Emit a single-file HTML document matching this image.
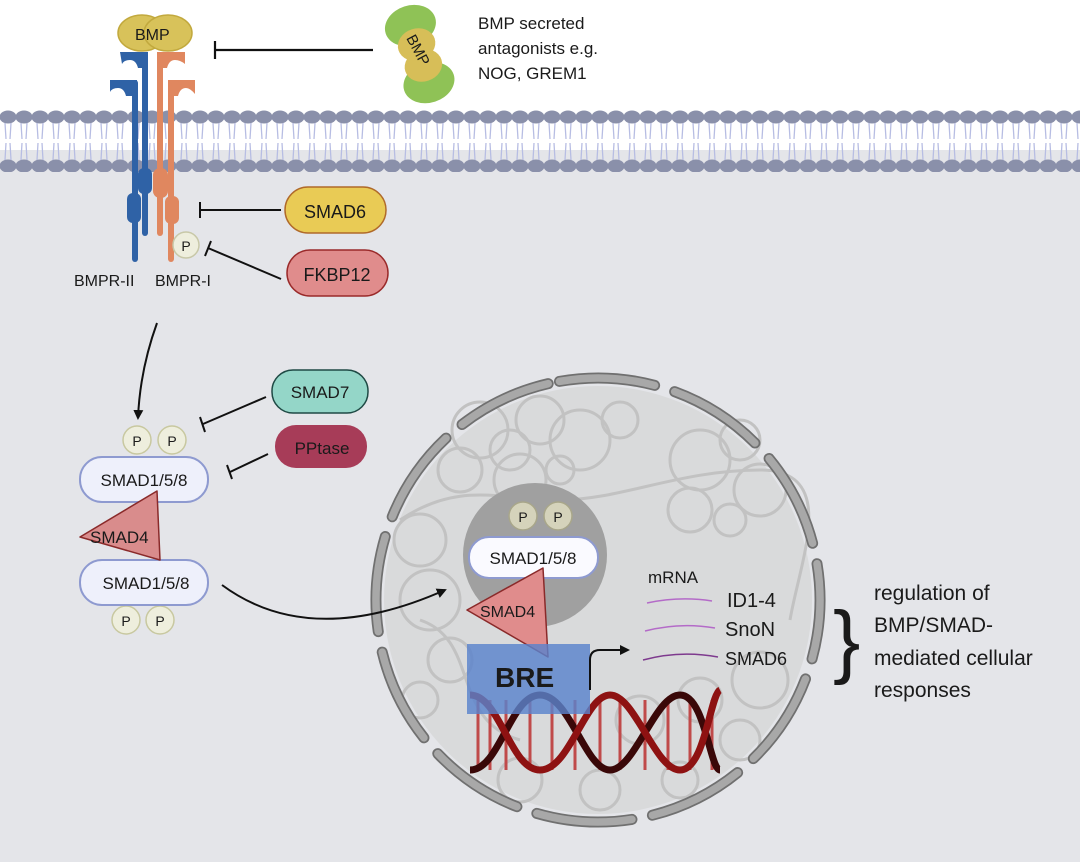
<!DOCTYPE html>
<html><head><meta charset="utf-8"><style>
html,body{margin:0;padding:0;background:#fff}
svg{display:block}
text{font-family:"Liberation Sans",sans-serif;fill:#1a1a1a}
</style></head><body>
<svg width="1080" height="862" viewBox="0 0 1080 862" xmlns="http://www.w3.org/2000/svg">
<defs>
<pattern id="mem" x="0" y="110" width="16" height="62" patternUnits="userSpaceOnUse">
<path d="M5 13 L6 29 M11 13 L10 29 M6 33 L5 50 M10 33 L11 50" stroke="#b7bde3" stroke-width="1.3" fill="none"/>
<ellipse cx="8" cy="7" rx="8.5" ry="6.5" fill="#8a90aa"/>
<ellipse cx="8" cy="56" rx="8.5" ry="6.5" fill="#8a90aa"/>
</pattern>
<marker id="ah" markerWidth="10" markerHeight="10" refX="8" refY="5" orient="auto" markerUnits="userSpaceOnUse"><path d="M0 0 L10 5 L0 10 Z" fill="#111"/></marker>
</defs>
<rect width="1080" height="862" fill="#fff"/>
<rect x="0" y="150" width="1080" height="712" fill="#e4e5e9"/>
<rect x="0" y="110" width="1080" height="62" fill="url(#mem)"/>

<!-- nucleus -->
<circle cx="598" cy="600" r="214" fill="#d9dadb"/>
<g fill="none" stroke="#c2c2c2" stroke-width="3">
<circle cx="480" cy="430" r="28"/><circle cx="510" cy="450" r="20"/><circle cx="540" cy="420" r="24"/><circle cx="580" cy="440" r="30"/><circle cx="620" cy="420" r="18"/>
<circle cx="460" cy="470" r="22"/><circle cx="520" cy="480" r="26"/><circle cx="560" cy="470" r="14"/>
<circle cx="700" cy="460" r="30"/><circle cx="740" cy="440" r="20"/><circle cx="760" cy="490" r="26"/><circle cx="690" cy="510" r="22"/><circle cx="730" cy="520" r="16"/>
<circle cx="420" cy="540" r="26"/><circle cx="430" cy="600" r="30"/><circle cx="450" cy="660" r="22"/><circle cx="420" cy="700" r="18"/>
<circle cx="640" cy="720" r="24"/><circle cx="700" cy="700" r="22"/><circle cx="760" cy="680" r="28"/><circle cx="740" cy="740" r="20"/>
<circle cx="520" cy="780" r="22"/><circle cx="600" cy="790" r="20"/><circle cx="680" cy="780" r="18"/>
<path d="M400 520 C460 480 500 500 560 500 S680 470 760 470 S800 560 790 620"/>
<path d="M420 620 C480 640 450 720 520 740"/>
</g>
<circle cx="598" cy="600" r="222" fill="none" stroke="#707070" stroke-width="11" stroke-dasharray="96 21" stroke-linecap="round" transform="rotate(-100 598 600)"/>
<circle cx="598" cy="600" r="222" fill="none" stroke="#a8a8a8" stroke-width="7.5" stroke-dasharray="96 21" stroke-linecap="round" transform="rotate(-100 598 600)"/>

<!-- receptors -->
<g fill="#2f62a6">
<rect x="132" y="80" width="6" height="182" rx="3"/>
<path d="M110 80 H137 V96 H126 Q124 88 118 88 Q112 88 110 92 Z"/>
<rect x="142" y="53" width="6" height="183" rx="3"/>
<path d="M120 52 H148 V68 H138 Q136 60 130 60 Q124 60 122 64 Z"/>
<rect x="138" y="168" width="14" height="26" rx="6"/>
<rect x="127" y="193" width="14" height="30" rx="6"/>
</g>
<g fill="#e0875f">
<rect x="157" y="53" width="6" height="183" rx="3"/>
<path d="M157 52 H185 V64 Q180 60 175 60 Q169 60 167 68 H157 Z"/>
<rect x="168" y="80" width="6" height="182" rx="3"/>
<path d="M168 80 H195 V94 Q190 88 186 88 Q180 88 178 96 H168 Z"/>
<rect x="153" y="168" width="15" height="30" rx="7"/>
<rect x="165" y="196" width="14" height="28" rx="6"/>
</g>
<!-- BMP ligand -->
<g fill="#d8c25a" stroke="#c2a93e" stroke-width="1.5">
<ellipse cx="142" cy="33" rx="24" ry="18"/><ellipse cx="168" cy="33" rx="24" ry="18"/>
</g>
<text x="135" y="40" font-size="16">BMP</text>
<!-- antagonist -->
<g transform="rotate(-18 420 55)">
<ellipse cx="420" cy="24" rx="26" ry="20" fill="#8fc256"/>
<ellipse cx="420" cy="84" rx="26" ry="20" fill="#8fc256"/>
<ellipse cx="420" cy="44" rx="19" ry="16" fill="#d7be58"/>
<ellipse cx="420" cy="66" rx="19" ry="16" fill="#d7be58"/>
</g>
<text x="0" y="0" font-size="15" transform="translate(406,38) rotate(62)">BMP</text>
<text font-size="17"><tspan x="478" y="29">BMP secreted</tspan><tspan x="478" y="54">antagonists e.g.</tspan><tspan x="478" y="79">NOG, GREM1</tspan></text>
<path d="M373 50 H215 M215 41 V59" stroke="#111" stroke-width="2.2" fill="none"/>

<!-- SMAD6 / FKBP12 -->
<rect x="285" y="187" width="101" height="46" rx="23" fill="#e9cb55" stroke="#b06a2a" stroke-width="1.5"/>
<text x="335" y="218" font-size="18" text-anchor="middle">SMAD6</text>
<rect x="287" y="250" width="101" height="46" rx="23" fill="#e08c8c" stroke="#9a2a2a" stroke-width="1.5"/>
<text x="337" y="281" font-size="18" text-anchor="middle">FKBP12</text>
<path d="M281 210 H200 M200 202 V218" stroke="#111" stroke-width="2" fill="none"/>
<path d="M281 279 L208 248 M211 241 L205 256" stroke="#111" stroke-width="2" fill="none"/>
<circle cx="186" cy="245" r="13" fill="#eeeedd" stroke="#c8c8a8" stroke-width="1.5"/>
<text x="186" y="251" font-size="14" text-anchor="middle">P</text>
<text x="74" y="286" font-size="16">BMPR-II</text>
<text x="155" y="286" font-size="16">BMPR-I</text>

<!-- arrow down -->
<path d="M157 323 Q140 370 138 418" stroke="#111" stroke-width="2" fill="none" marker-end="url(#ah)"/>

<!-- SMAD7 / PPtase -->
<rect x="272" y="370" width="96" height="43" rx="21" fill="#94d6c8" stroke="#1f4a45" stroke-width="1.5"/>
<text x="320" y="398" font-size="17" text-anchor="middle">SMAD7</text>
<rect x="275" y="425" width="92" height="43" rx="21" fill="#a73c58"/>
<text x="322" y="454" font-size="17" text-anchor="middle">PPtase</text>
<path d="M266 397 L203 424 M200 417 L205 432" stroke="#111" stroke-width="2" fill="none"/>
<path d="M268 454 L230 472 M227 465 L232 479" stroke="#111" stroke-width="2" fill="none"/>

<!-- left complex -->
<g fill="#eeeedd" stroke="#c8c8a0" stroke-width="1.5">
<circle cx="137" cy="440" r="14"/><circle cx="172" cy="440" r="14"/>
<circle cx="126" cy="620" r="14"/><circle cx="160" cy="620" r="14"/>
</g>
<g font-size="14" text-anchor="middle"><text x="137" y="446">P</text><text x="172" y="446">P</text><text x="126" y="626">P</text><text x="160" y="626">P</text></g>
<rect x="80" y="457" width="128" height="45" rx="22" fill="#eef0fb" stroke="#8e9ad0" stroke-width="2"/>
<text x="144" y="486" font-size="17" text-anchor="middle">SMAD1/5/8</text>
<rect x="80" y="560" width="128" height="45" rx="22" fill="#eef0fb" stroke="#8e9ad0" stroke-width="2"/>
<text x="146" y="589" font-size="17" text-anchor="middle">SMAD1/5/8</text>
<path d="M80 537 L157 491 L160 560 Z" fill="#d98c8c" stroke="#8a2a2a" stroke-width="1.5" stroke-linejoin="round"/>
<text x="90" y="543" font-size="17">SMAD4</text>

<!-- curve arrow to nucleus -->
<path d="M222 585 Q310 650 445 590" stroke="#111" stroke-width="2" fill="none" marker-end="url(#ah)"/>

<!-- nuclear complex -->
<circle cx="535" cy="555" r="72" fill="#a0a0a0"/>
<g fill="#d5d3bb" stroke="#a8a68a" stroke-width="1.5"><circle cx="523" cy="516" r="14"/><circle cx="558" cy="516" r="14"/></g>
<g font-size="14" text-anchor="middle"><text x="523" y="522">P</text><text x="558" y="522">P</text></g>
<rect x="469" y="537" width="129" height="41" rx="20" fill="#fafaff" stroke="#8e9ad0" stroke-width="2"/>
<text x="533" y="564" font-size="17" text-anchor="middle">SMAD1/5/8</text>
<path d="M467 610 L543 568 L548 657 Z" fill="#e08c8c" stroke="#8a2a2a" stroke-width="1.5" stroke-linejoin="round"/>
<text x="480" y="617" font-size="16">SMAD4</text>

<!-- DNA -->
<g stroke-width="3">
<path d="M478 700 V770 M490 700 V770 M506 700 V770 M530 700 V770 M552 700 V770 M575 700 V770 M600 700 V770 M620 700 V770 M645 700 V770 M668 700 V770 M690 700 V770 M712 700 V770" stroke="#c04a4a"/>
</g>
<path d="M470 770 C500 770 510 695 540 695 S585 770 610 770 S655 695 680 695 S710 770 720 770" stroke="#3a0808" stroke-width="7" fill="none"/>
<path d="M470 695 C500 695 510 770 540 770 S585 695 610 695 S655 770 680 770 S710 695 720 690" stroke="#8e1212" stroke-width="7" fill="none"/>
<rect x="467" y="644" width="123" height="70" fill="#5a83cc" fill-opacity="0.82"/>
<text x="495" y="687" font-size="28" font-weight="bold">BRE</text>
<path d="M590 690 V660 Q590 650 600 650 H628" stroke="#111" stroke-width="2" fill="none" marker-end="url(#ah)"/>

<!-- mRNA -->
<text x="648" y="583" font-size="17">mRNA</text>
<g fill="none" stroke-width="1.5">
<path d="M647 603 Q680 596 712 601" stroke="#b46bc8"/>
<path d="M645 631 Q680 622 715 628" stroke="#b46bc8"/>
<path d="M643 660 Q680 650 718 657" stroke="#7e3a8e"/>
</g>
<g font-size="20"><text x="727" y="607">ID1-4</text><text x="725" y="636">SnoN</text></g>
<text x="725" y="665" font-size="18">SMAD6</text>

<text x="833" y="668" font-size="82" font-family="Liberation Serif">}</text>
<g font-size="21"><text x="874" y="600">regulation of</text><text x="874" y="632">BMP/SMAD-</text><text x="874" y="665">mediated cellular</text><text x="874" y="697">responses</text></g>
</svg>
</body></html>
